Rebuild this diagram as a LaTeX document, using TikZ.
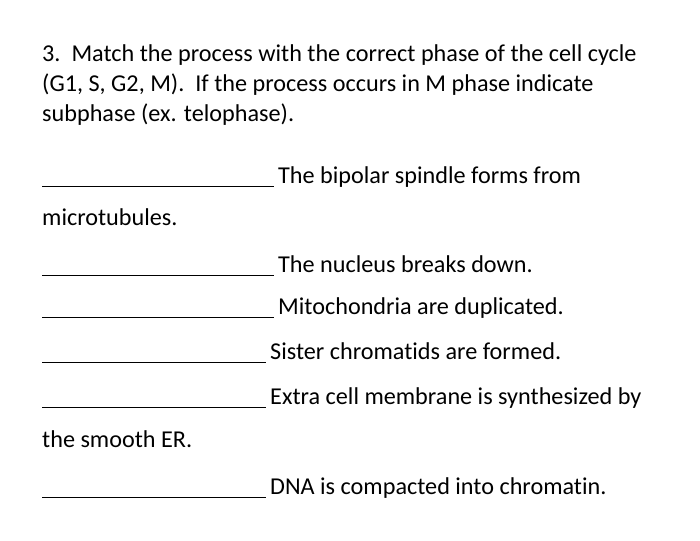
\documentclass[tikz,border=0pt]{standalone}
\usepackage{fontspec}
\setmainfont[Ligatures=NoCommon]{Carlito}
\begin{document}
\begin{tikzpicture}[x=1pt,y=-1pt,txt/.style={anchor=base west,inner sep=0pt,font=\fontsize{24.2}{28}\selectfont},blank/.style={line width=1pt}]
\useasboundingbox (0,0) rectangle (700,540);
\fill[white] (0,0) rectangle (700,540);
\node[txt] (l1) at (42,62) {3.\ \ Match the process with the correct phase of the cell cycle};
\node[txt] (l2) at (42,92) {(G1, S, G2, M).\ \ If the process occurs in M phase indicate};
\node[txt] (l3) at (42,122) {subphase (ex. telophase).};
\foreach \y/\t/\x in {183/The bipolar spindle forms from/278, 272/The nucleus breaks down./278, 314/Mitochondria are duplicated./278, 359/Sister chromatids are formed./270, 404/Extra cell membrane is synthesized by/270, 494/DNA is compacted into chromatin./270}{
  \draw[blank] (42,\y+3) -- (\x-4,\y+3);
  \node[txt] at (\x,\y) {\t};
}
\node[txt] (w1) at (42,225) {microtubules.};
\node[txt] (w2) at (42,447) {the smooth ER.};
\end{tikzpicture}
\end{document}
